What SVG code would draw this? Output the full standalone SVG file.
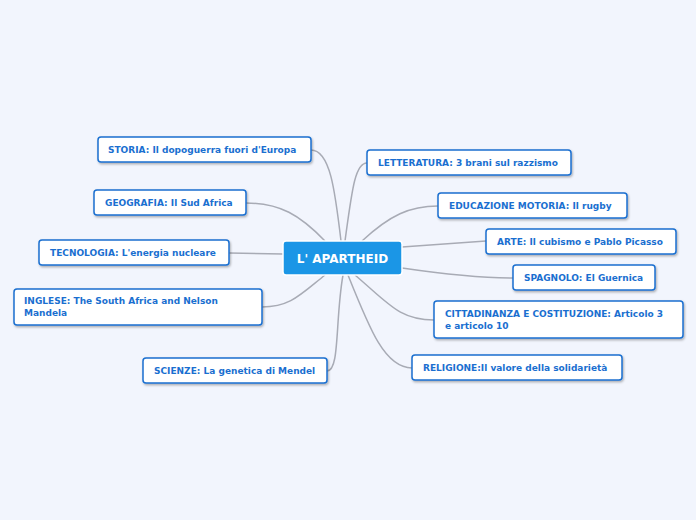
<svg xmlns="http://www.w3.org/2000/svg" width="696" height="520" viewBox="0 0 696 520">
<defs><filter id="sh" x="-10%" y="-20%" width="120%" height="150%"><feDropShadow dx="1" dy="1.5" stdDeviation="1" flood-color="#000" flood-opacity="0.3"/></filter></defs>
<style>
.n rect{fill:#fff;stroke:#1a6fd0;stroke-width:1.5;filter:url(#sh)}
.n text{font-family:"DejaVu Sans",sans-serif;font-weight:bold;font-size:9px;fill:#1a6fd0}
.c path{fill:none;stroke:#a8abb5;stroke-width:1.5}
</style>
<rect width="696" height="520" fill="#f2f5fd"/>
<g class="c">
<path d="M341 241 C335 190,330 150,311 150"/>
<path d="M325 241 C300 215,280 203,246 203"/>
<path d="M283 254 L229 253"/>
<path d="M325 275 C300 295,290 307,262 307"/>
<path d="M343 275 C335 320,340 371,327 371"/>
<path d="M345 241 C352 190,355 163,367 163"/>
<path d="M362 241 C390 215,410 206,438 206"/>
<path d="M402 247 L486 241"/>
<path d="M402 268 C450 275,480 278,513 278"/>
<path d="M355 275 C390 305,400 320,434 320"/>
<path d="M348 275 C370 330,385 368,412 368"/>
</g>
<g id="center"><rect x="283" y="241" width="119" height="34" rx="3" fill="#1b96e6" stroke="#fff" stroke-width="1.5"/><text x="342.5" y="263" text-anchor="middle" font-family="DejaVu Sans,sans-serif" font-weight="bold" font-size="12" fill="#fff">L' APARTHEID</text></g>
<g id="n1" class="n"><rect x="98" y="137" width="213" height="25" rx="3"/><text x="108" y="153">STORIA: Il dopoguerra fuori d'Europa</text></g>
<g id="n2" class="n"><rect x="94" y="190" width="152" height="25" rx="3"/><text x="105" y="206">GEOGRAFIA: Il Sud Africa</text></g>
<g id="n3" class="n"><rect x="39" y="240" width="190" height="25" rx="3"/><text x="50" y="256">TECNOLOGIA: L'energia nucleare</text></g>
<g id="n4" class="n"><rect x="14" y="289" width="248" height="36" rx="3"/><text x="24" y="304">INGLESE: The South Africa and Nelson</text><text x="24" y="316">Mandela</text></g>
<g id="n5" class="n"><rect x="143" y="358" width="184" height="25" rx="3"/><text x="154" y="374">SCIENZE: La genetica di Mendel</text></g>
<g id="n6" class="n"><rect x="367" y="150" width="204" height="25" rx="3"/><text x="378" y="166">LETTERATURA: 3 brani sul razzismo</text></g>
<g id="n7" class="n"><rect x="438" y="193" width="189" height="25" rx="3"/><text x="449" y="209">EDUCAZIONE MOTORIA: Il rugby</text></g>
<g id="n8" class="n"><rect x="486" y="229" width="190" height="25" rx="3"/><text x="497" y="245">ARTE: Il cubismo e Pablo Picasso</text></g>
<g id="n9" class="n"><rect x="513" y="265" width="142" height="25" rx="3"/><text x="524" y="281">SPAGNOLO: El Guernica</text></g>
<g id="n10" class="n"><rect x="434" y="301" width="249" height="37" rx="3"/><text x="445" y="317">CITTADINANZA E COSTITUZIONE: Articolo 3</text><text x="445" y="329">e articolo 10</text></g>
<g id="n11" class="n"><rect x="412" y="355" width="210" height="25" rx="3"/><text x="423" y="371">RELIGIONE:Il valore della solidarietà</text></g>
</svg>
